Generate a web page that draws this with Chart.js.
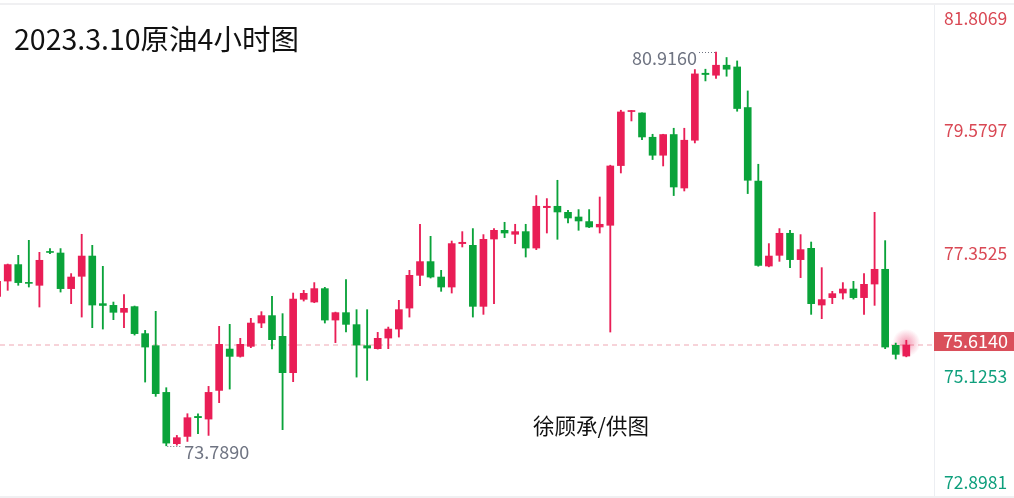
<!DOCTYPE html>
<html>
<head>
<meta charset="utf-8">
<script src="https://cdn.jsdelivr.net/npm/chart.js@4.4.0/dist/chart.umd.min.js"></script>
<style>
  html, body { margin: 0; padding: 0; background: #fff; }
  #wrap { width: 1014px; height: 498px; }
</style>
</head>
<body>
<div id="wrap"><canvas id="myChart" width="1014" height="498"></canvas></div>
<script>
// 4 hour candles (index 0 is cut off at the left edge)
const opens = [76.495, 76.772, 77.070, 76.745, 76.695, 77.305, 77.280, 76.635, 76.858, 77.225,
  76.363, 76.332, 76.206, 76.309, 75.820, 75.602, 74.756, 73.827, 73.959, 74.321,
  74.273, 74.792, 75.541, 75.408, 75.590, 76.012, 76.146, 75.771, 75.113, 76.441,
  76.392, 76.635, 76.066, 76.200, 75.983, 75.602, 75.548, 75.740, 75.903, 76.283,
  76.876, 77.124, 76.845, 76.664, 77.450, 77.419, 76.314, 77.533, 77.691, 77.619,
  77.667, 77.370, 78.102, 78.126, 78.017, 77.932, 77.849, 77.751, 77.782, 78.863,
  79.841, 79.816, 79.376, 79.050, 79.425, 78.457, 79.322, 80.535, 80.499, 80.680,
  80.649, 79.914, 78.584, 77.044, 77.238, 77.637, 77.160, 77.365, 76.338, 76.472,
  76.555, 76.628, 76.472, 76.718, 76.985, 75.608, 75.414];
const highs = [76.800, 77.080, 77.238, 77.510, 77.292, 77.360, 77.360, 76.907, 77.619, 77.419,
  77.039, 76.392, 76.526, 76.320, 75.879, 76.224, 74.841, 73.977, 74.370, 74.370,
  74.865, 75.952, 75.988, 75.735, 76.097, 76.218, 76.495, 76.182, 76.555, 76.604,
  76.744, 76.658, 76.210, 76.798, 76.254, 76.254, 75.843, 75.939, 76.423, 76.966,
  77.800, 77.582, 76.966, 77.497, 77.667, 77.722, 77.613, 77.722, 77.836, 77.800,
  77.800, 78.320, 78.265, 78.597, 78.053, 78.066, 78.066, 78.294, 78.870, 79.865,
  79.862, 79.820, 79.430, 79.430, 79.539, 79.539, 80.602, 80.608, 80.916, 80.820,
  80.758, 80.215, 78.887, 77.450, 77.722, 77.691, 77.613, 77.479, 77.015, 76.586,
  76.744, 76.767, 76.907, 78.017, 77.504, 75.649, 75.700];
const lows = [76.460, 76.604, 76.695, 76.664, 76.302, 77.269, 76.573, 76.363, 76.120, 75.928,
  75.903, 76.073, 75.928, 75.794, 74.943, 74.684, 73.789, 73.800, 73.868, 74.008,
  73.977, 74.570, 74.816, 75.395, 75.566, 75.928, 75.541, 74.081, 74.950, 76.410,
  76.380, 76.012, 75.657, 75.849, 75.033, 74.974, 75.540, 75.548, 75.758, 76.120,
  76.689, 76.827, 76.586, 76.555, 77.389, 76.120, 76.169, 76.363, 77.559, 77.450,
  77.207, 77.341, 77.642, 77.528, 77.823, 77.691, 77.740, 77.642, 75.849, 78.729,
  79.671, 79.334, 78.972, 78.856, 78.320, 78.403, 79.273, 80.396, 80.439, 80.481,
  79.847, 78.356, 77.040, 77.030, 77.129, 77.015, 76.834, 76.169, 76.091, 76.363,
  76.446, 76.446, 76.169, 76.332, 75.548, 75.360, 75.400];
const closes = [76.767, 77.070, 76.744, 76.730, 77.148, 77.290, 76.635, 76.845, 77.225, 76.338,
  76.330, 76.206, 76.278, 75.820, 75.577, 74.733, 73.838, 73.936, 74.298, 74.298,
  74.756, 75.626, 75.408, 75.626, 76.012, 76.146, 75.711, 75.113, 76.446, 76.550,
  76.635, 76.066, 76.200, 75.988, 75.613, 75.559, 75.735, 75.903, 76.254, 76.876,
  77.124, 76.845, 76.664, 77.450, 77.474, 76.314, 77.528, 77.691, 77.642, 77.667,
  77.370, 78.126, 78.126, 78.023, 77.914, 77.860, 77.751, 77.800, 78.856, 79.834,
  79.860, 79.381, 79.050, 79.425, 78.475, 79.322, 80.523, 80.512, 80.680, 80.608,
  79.896, 78.597, 77.057, 77.225, 77.637, 77.160, 77.341, 76.363, 76.436, 76.544,
  76.628, 76.472, 76.713, 76.985, 75.577, 75.445, 75.614];

const axisTicks = [72.8981, 75.1253, 77.3525, 79.5797, 81.8069];
const lastPrice = 75.614;
const highMark = { index: 68, value: 80.916, text: '80.9160' };
const lowMark = { index: 16, value: 73.789, text: '73.7890' };
const titleText = '2023.3.10原油4小时图';
const creditText = '徐顾承/供图';

const UP = '#E91E56';
const DOWN = '#0AA33A';
const AXIS_UP = '#D94854';
const AXIS_DOWN = '#0E9F7C';
const FONT = '"Noto Sans CJK SC", "Noto Sans", sans-serif';

// build datasets
const wickData = [];
const bodyData = [];
const colors = [];
for (let i = 0; i < opens.length; i++) {
  wickData.push({ x: i, y: [lows[i], highs[i]] });
  bodyData.push({ x: i, y: [opens[i], closes[i]] });
  colors.push(closes[i] >= opens[i] ? UP : DOWN);
}

// extra drawing: price line, labels, title
const decor = {
  id: 'decor',
  beforeDatasetsDraw(chart) {
    const ctx = chart.ctx;
    const area = chart.chartArea;
    const x = chart.scales.x, y = chart.scales.y;
    const py = y.getPixelForValue(lastPrice);
    ctx.save();
    // frame lines
    ctx.strokeStyle = '#f0f0f2';
    ctx.lineWidth = 2;
    ctx.beginPath();
    ctx.moveTo(0, 4); ctx.lineTo(chart.width, 4);
    ctx.moveTo(0, 497); ctx.lineTo(chart.width, 497);
    ctx.stroke();
    // current price dashed line
    ctx.strokeStyle = 'rgba(230, 110, 130, 0.6)';
    ctx.lineWidth = 1.2;
    ctx.setLineDash([5, 4]);
    ctx.beginPath();
    ctx.moveTo(area.left, py);
    ctx.lineTo(area.right, py);
    ctx.stroke();
    ctx.setLineDash([]);
    // glow on last candle
    const lx = x.getPixelForValue(opens.length - 1);
    const ly = y.getPixelForValue(closes[closes.length - 1]) - 2;
    const g = ctx.createRadialGradient(lx, ly, 0, lx, ly, 14);
    g.addColorStop(0, 'rgba(233, 30, 86, 0.45)');
    g.addColorStop(1, 'rgba(233, 30, 86, 0)');
    ctx.fillStyle = g;
    ctx.beginPath();
    ctx.arc(lx, ly, 14, 0, Math.PI * 2);
    ctx.fill();
    ctx.restore();
  },
  afterDraw(chart) {
    const ctx = chart.ctx;
    const area = chart.chartArea;
    const x = chart.scales.x, y = chart.scales.y;
    ctx.save();

    // title and credit
    ctx.fillStyle = '#111';
    ctx.font = '28.5px ' + FONT;
    ctx.textAlign = 'left';
    ctx.textBaseline = 'middle';
    ctx.fillText(titleText, 14, 39);
    ctx.font = '21.5px ' + FONT;
    ctx.textAlign = 'center';
    ctx.fillText(creditText, 591, 426);

    // high / low marks
    ctx.font = '18px ' + FONT;
    ctx.fillStyle = '#6F7482';
    ctx.strokeStyle = '#6F7482';
    ctx.lineWidth = 1;
    ctx.setLineDash([1, 2]);
    const hx = x.getPixelForValue(highMark.index);
    const hy = Math.round(y.getPixelForValue(highMark.value)) + 0.5;
    ctx.beginPath();
    ctx.moveTo(hx - 17, hy); ctx.lineTo(hx - 1, hy);
    ctx.stroke();
    ctx.textAlign = 'right';
    ctx.fillText(highMark.text, hx - 19, hy + 5.5);
    const lx = x.getPixelForValue(lowMark.index);
    const ly = Math.round(y.getPixelForValue(lowMark.value)) + 0.5;
    ctx.beginPath();
    ctx.moveTo(lx + 1, ly); ctx.lineTo(lx + 14, ly);
    ctx.stroke();
    ctx.setLineDash([]);
    ctx.textAlign = 'left';
    ctx.fillText(lowMark.text, lx + 18, ly + 5.5);

    // axis labels from the y scale
    ctx.font = '17.5px ' + FONT;
    ctx.textAlign = 'left';
    y.ticks.forEach(t => {
      let ty = y.getPixelForValue(t.value) + 4;
      ty = Math.max(area.top + 15, Math.min(area.bottom - 13, ty));
      ctx.fillStyle = t.value > lastPrice ? AXIS_UP : AXIS_DOWN;
      ctx.fillText(t.value.toFixed(4), area.right + 10, ty);
    });

    // last price tag
    const py = y.getPixelForValue(lastPrice);
    ctx.fillStyle = '#DA4F5B';
    ctx.fillRect(area.right, py - 13, chart.width - area.right, 19);
    ctx.fillStyle = '#fff';
    ctx.font = '18px ' + FONT;
    ctx.fillText(lastPrice.toFixed(4), area.right + 9, py - 3.5);
    ctx.restore();
  }
};

const ctx = document.getElementById('myChart').getContext('2d');
const myChart = new Chart(ctx, {
  type: 'bar',
  data: {
    datasets: [{
      label: 'wick',
      data: wickData,
      backgroundColor: colors,
      barThickness: 1.2,
      grouped: false,
      borderWidth: 0
    }, {
      label: 'body',
      data: bodyData,
      backgroundColor: colors,
      barThickness: 7,
      minBarLength: 1,
      grouped: false,
      borderWidth: 0
    }]
  },
  options: {
    responsive: false,
    animation: false,
    layout: { padding: { top: 3, bottom: 3, left: 0, right: 0 } },
    plugins: {
      legend: { display: false },
      tooltip: { enabled: false }
    },
    scales: {
      x: {
        type: 'linear',
        display: false,
        offset: false,
        grid: { offset: false },
        min: 0.2717,
        max: 88.62
      },
      y: {
        type: 'linear',
        position: 'right',
        min: axisTicks[0],
        max: axisTicks[axisTicks.length - 1],
        afterBuildTicks: s => { s.ticks = axisTicks.map(v => ({ value: v })); },
        afterFit: s => { s.width = 80; },
        grid: { display: false },
        border: { display: true, color: '#eceef2' },
        ticks: { display: false }
      }
    }
  },
  plugins: [decor]
});
</script>
</body>
</html>
